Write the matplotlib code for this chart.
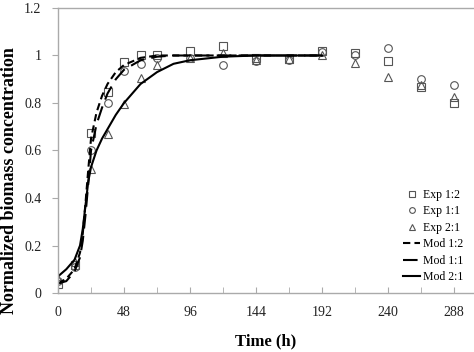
import matplotlib
matplotlib.use("Agg")
import matplotlib.pyplot as plt

# --- experimental data ---
t_exp = [0, 12, 24, 36, 48, 60, 72, 96, 120, 144, 168, 192, 216, 240, 264, 288]
exp_12 = [0.04, 0.12, 0.675, 0.845, 0.973, 1.0, 1.0, 1.02, 1.04, 0.99, 0.985, 1.02, 1.01, 0.975, 0.868, 0.80]
exp_11 = [0.05, 0.11, 0.60, 0.80, 0.935, 0.965, 0.99, 0.99, 0.96, 0.975, 0.98, 1.015, 1.0, 1.03, 0.90, 0.876]
exp_21 = [0.06, 0.13, 0.52, 0.67, 0.795, 0.905, 0.96, 0.99, 1.01, 0.98, 0.985, 1.0, 0.97, 0.91, 0.876, 0.825]

# --- model curves ---
t_mod = [0, 6, 12, 16, 18, 20, 22, 24, 28, 32, 36, 42, 48, 60, 72, 84, 96, 120, 144, 168, 192]
mod_12 = [0.04, 0.06, 0.10, 0.17, 0.25, 0.38, 0.52, 0.65, 0.76, 0.83, 0.88, 0.93, 0.96, 0.99, 1.0, 1.0, 1.0, 1.0, 1.0, 1.0, 1.0]
mod_11 = [0.04, 0.05, 0.09, 0.15, 0.22, 0.33, 0.46, 0.60, 0.71, 0.78, 0.84, 0.90, 0.94, 0.98, 0.995, 1.0, 1.0, 1.0, 1.0, 1.0, 1.0]
mod_21 = [0.07, 0.10, 0.14, 0.20, 0.27, 0.37, 0.47, 0.53, 0.60, 0.65, 0.69, 0.75, 0.80, 0.88, 0.93, 0.965, 0.98, 0.995, 1.0, 1.0, 1.0]

plt.rcParams['font.family'] = ['Liberation Serif', 'DejaVu Serif']

fig = plt.figure(figsize=(4.74, 3.52), dpi=100)
ax = fig.add_axes([0.1224, 0.1676, 0.8776, 0.8097])

mk = dict(linestyle='none', markerfacecolor='none', markeredgecolor='#555555',
          markeredgewidth=0.8, markersize=5.5)
ax.plot(t_exp, exp_12, marker='s', label='Exp 1:2', **mk)
ax.plot(t_exp, exp_11, marker='o', label='Exp 1:1', **mk)
ax.plot(t_exp, exp_21, marker='^', label='Exp 2:1', **mk)

ax.plot(t_mod, mod_12, color='black', lw=1.5, dashes=(3.5, 2), label='Mod 1:2')
ax.plot(t_mod, mod_11, color='black', lw=1.5, dashes=(7, 3.5), label='Mod 1:1')
ax.plot(t_mod, mod_21, color='black', lw=1.5, label='Mod 2:1')

ax.set_xlim(0, 302.5)
ax.set_ylim(0, 1.2)
ax.set_xticks(range(0, 289, 48))
ax.set_xticks(range(0, 289, 24), minor=True)
ax.set_yticks([0, 0.2, 0.4, 0.6, 0.8, 1.0, 1.2])
ax.set_yticklabels(['0', '0.2', '0.4', '0.6', '0.8', '1', '1.2'])

for s in ['left', 'bottom', 'top']:
    ax.spines[s].set_color('#aaaaaa')
    ax.spines[s].set_linewidth(1.0)
ax.spines['right'].set_visible(False)

ax.tick_params(axis='x', which='both', direction='in', length=4, color='#aaaaaa',
               labelsize=10, pad=9, labelcolor='#222222')
ax.tick_params(axis='y', direction='out', length=4, color='#aaaaaa',
               labelsize=10, pad=8, labelcolor='#222222')

ax.set_xlabel('Time (h)', fontsize=12, fontweight='bold')
ax.xaxis.set_label_coords(0.5, -0.14)
ax.set_ylabel('Normalized biomass concentration', fontsize=13, fontweight='bold')
ax.yaxis.set_label_coords(-0.097, 0.396)

ax.legend(loc='lower right', bbox_to_anchor=(0.995, 0.005), frameon=False, fontsize=8.5,
          handlelength=1.5, handletextpad=0.25, labelspacing=0.38, borderpad=0.2,
          markerscale=0.75)

fig.savefig('out.png', dpi=100)
